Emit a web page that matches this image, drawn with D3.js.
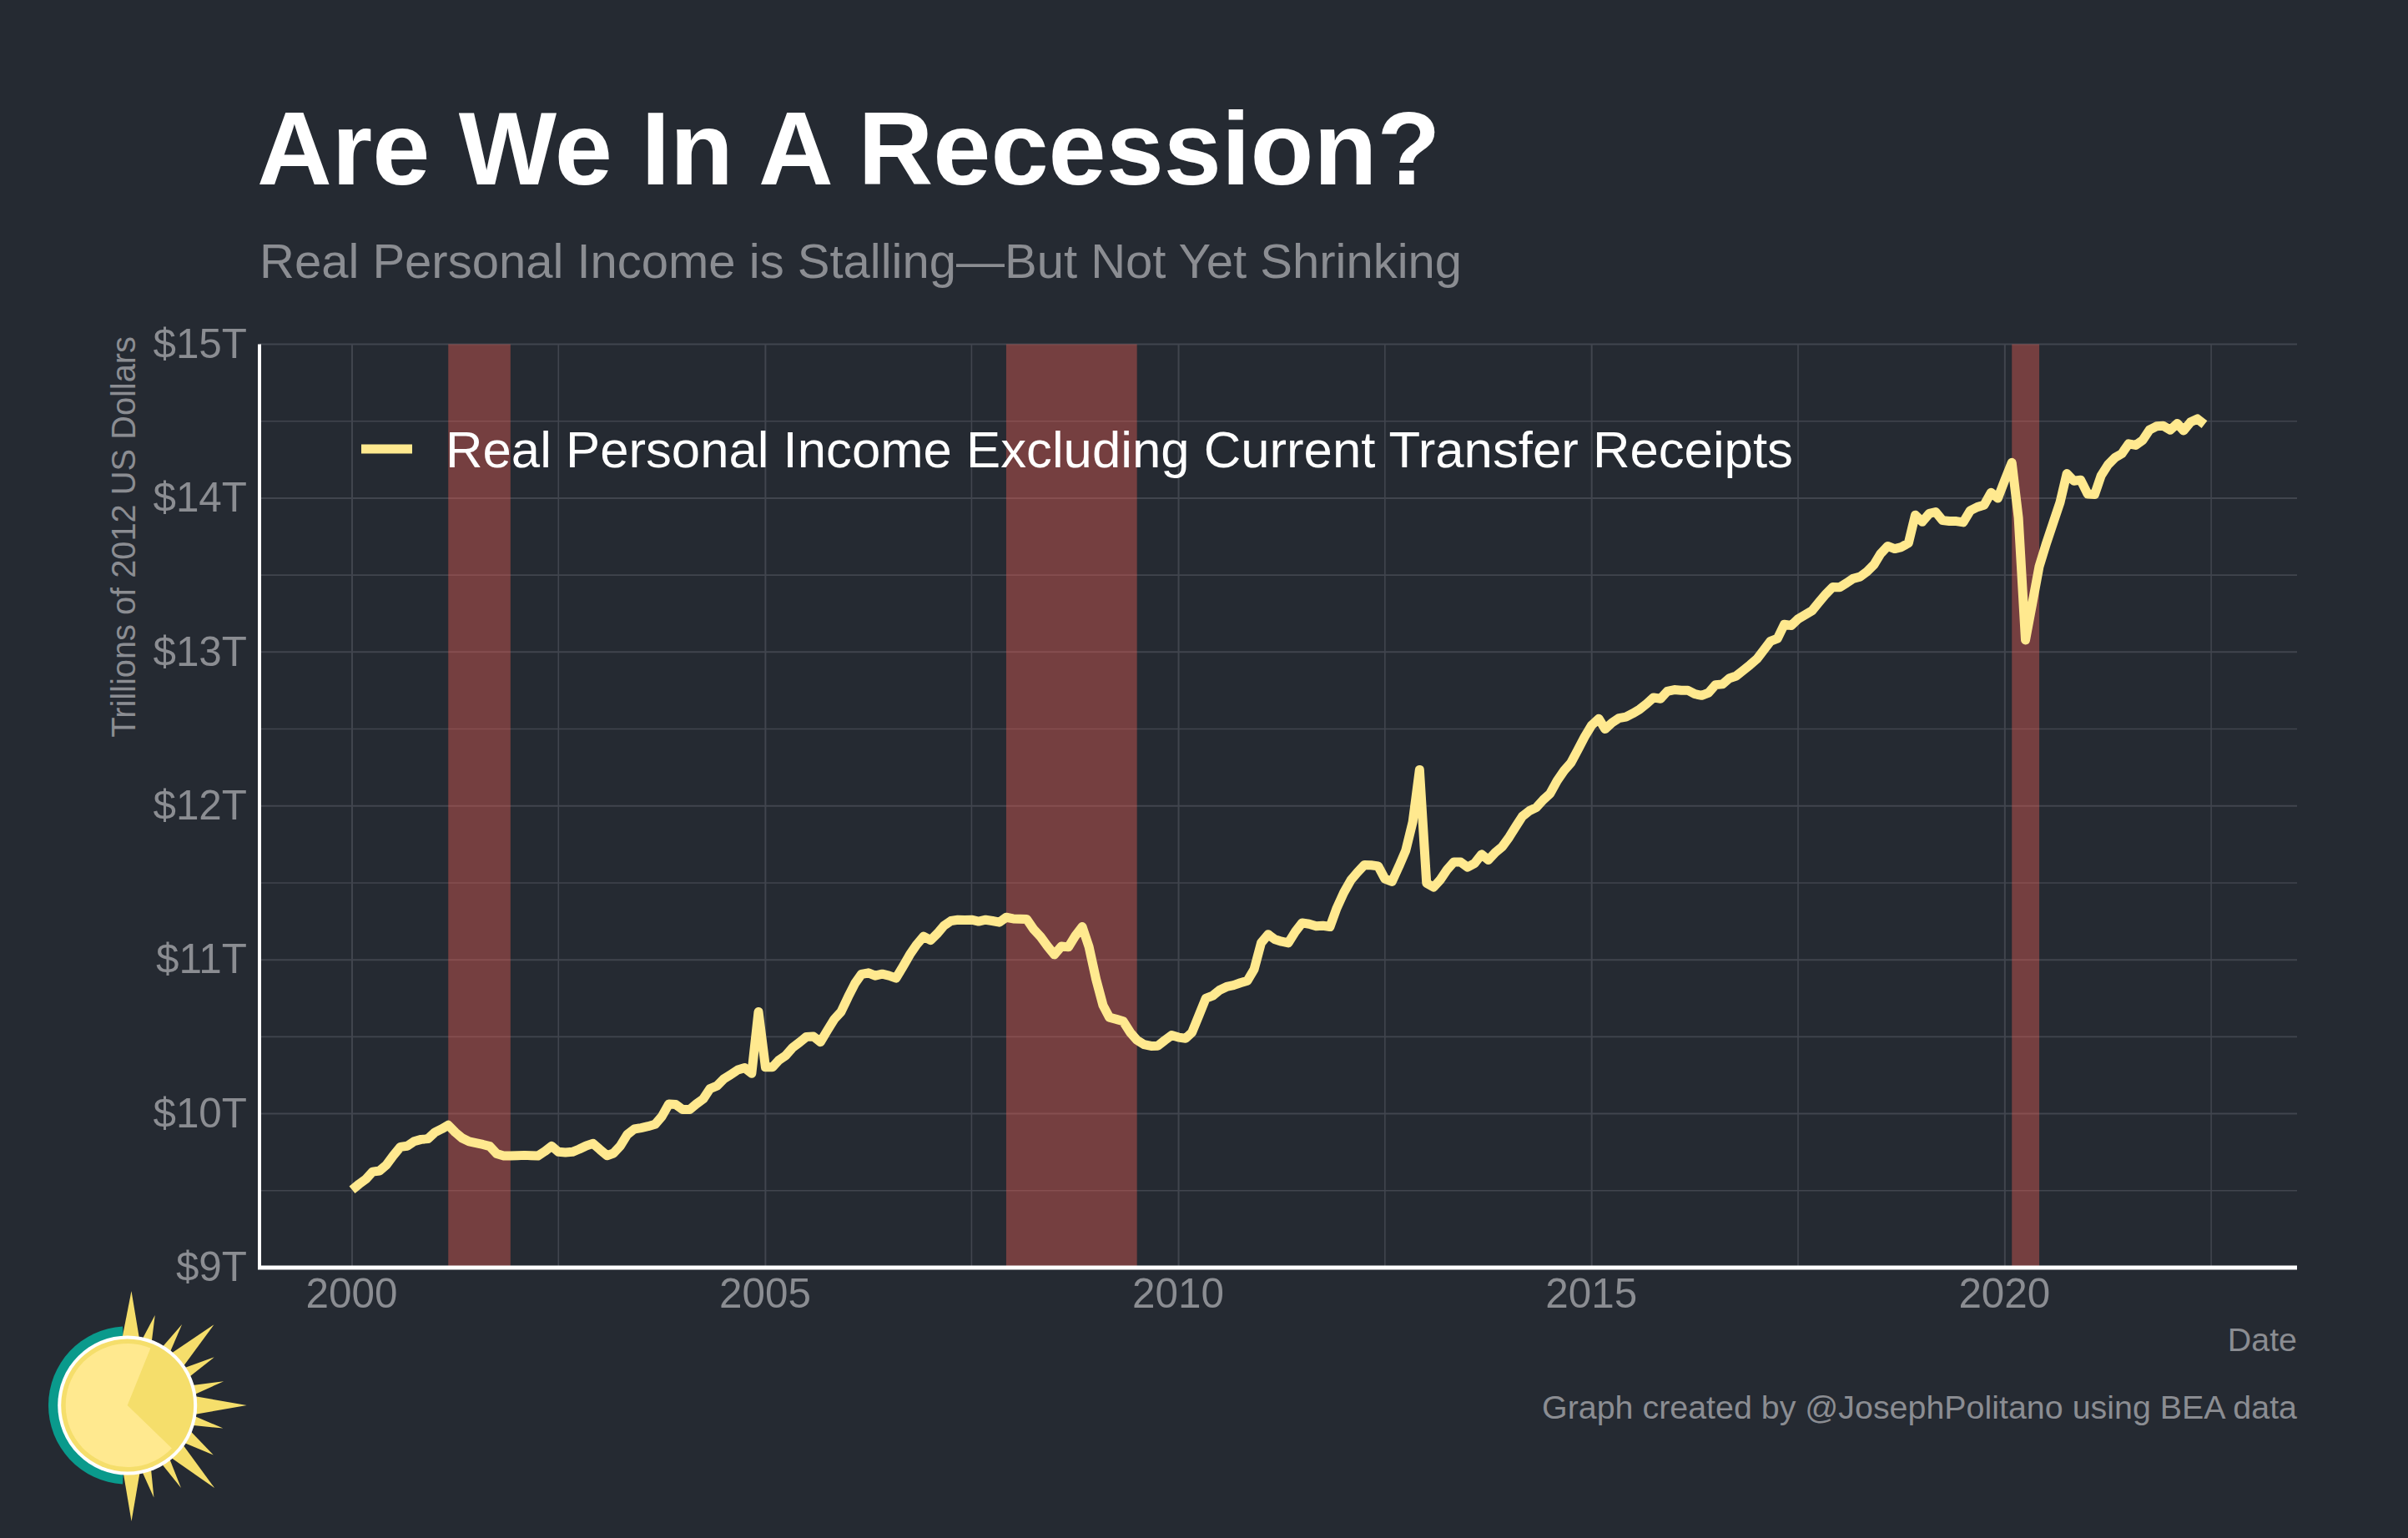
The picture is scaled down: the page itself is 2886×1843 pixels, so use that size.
<!DOCTYPE html>
<html>

<head>
  <title>Are We In A Recession?</title>
  <script src="https://d3js.org/d3.v7.min.js"></script>
  <style>
    body {
      margin: 0;
      background: #252A32;
    }

    svg {
      display: block;
    }

    text {
      font-family: "Liberation Sans", Arial, sans-serif;
    }

    .axis .domain {
      stroke: none;
    }

    .axis text {
      fill: #8B8D92;
      font-family: "Liberation Sans", Arial, sans-serif;
      font-size: 49.4px;
    }
  </style>
</head>

<body>
  <svg id="chart" width="2886" height="1843"></svg>

  <script>
    // monthly, trillions of 2012 dollars. starts Jan 2000
    const firstMonth = new Date(2000, 0, 1);
    const income = [
      9.506, 9.543, 9.574, 9.623, 9.629, 9.668, 9.728, 9.784, 9.79, 9.82, 9.833, 9.837,
      9.879, 9.902, 9.926, 9.879, 9.842, 9.819, 9.81, 9.8, 9.788, 9.74, 9.726, 9.726,
      9.728, 9.73, 9.728, 9.726, 9.755, 9.79, 9.752, 9.748, 9.752, 9.77, 9.792, 9.806,
      9.766, 9.728, 9.743, 9.792, 9.864, 9.9, 9.908, 9.918, 9.931, 9.982, 10.063, 10.06,
      10.027, 10.027, 10.063, 10.096, 10.163, 10.181, 10.226, 10.255, 10.285, 10.298, 10.262, 10.662,
      10.303, 10.303, 10.347, 10.379, 10.43, 10.464, 10.5, 10.502, 10.466, 10.54, 10.614, 10.662,
      10.758, 10.848, 10.906, 10.915, 10.897, 10.908, 10.897, 10.881, 10.957, 11.034, 11.1, 11.152,
      11.128, 11.173, 11.222, 11.253, 11.26, 11.258, 11.26, 11.25, 11.26, 11.253, 11.244, 11.276,
      11.267, 11.265, 11.264, 11.197, 11.15, 11.088, 11.034, 11.088, 11.083, 11.155, 11.215, 11.083,
      10.875, 10.704, 10.626, 10.614, 10.601, 10.529, 10.478, 10.45, 10.44, 10.441, 10.477, 10.51,
      10.496, 10.49, 10.528, 10.64, 10.749, 10.767, 10.803, 10.825, 10.835, 10.85, 10.864, 10.939,
      11.11, 11.165, 11.134, 11.119, 11.11, 11.183, 11.24, 11.233, 11.219, 11.222, 11.215, 11.336,
      11.436, 11.517, 11.568, 11.617, 11.615, 11.609, 11.526, 11.508, 11.608, 11.711, 11.897, 12.235,
      11.499, 11.472, 11.517, 11.584, 11.635, 11.635, 11.602, 11.626, 11.685, 11.649, 11.698, 11.734,
      11.797, 11.87, 11.933, 11.969, 11.99, 12.04, 12.08, 12.164, 12.23, 12.28, 12.365, 12.45,
      12.525, 12.567, 12.5, 12.541, 12.57, 12.578, 12.601, 12.628, 12.664, 12.704, 12.697, 12.745,
      12.755, 12.751, 12.751, 12.727, 12.718, 12.736, 12.787, 12.791, 12.83, 12.845, 12.881, 12.917,
      12.957, 13.016, 13.07, 13.088, 13.179, 13.173, 13.215, 13.242, 13.269, 13.323, 13.377, 13.422,
      13.421, 13.449, 13.477, 13.489, 13.522, 13.567, 13.639, 13.688, 13.671, 13.682, 13.708, 13.89,
      13.846, 13.9, 13.91, 13.855, 13.85, 13.85, 13.843, 13.919, 13.942, 13.955, 14.036, 14,
      14.118, 14.231, 13.873, 13.078, 13.313, 13.557, 13.7, 13.837, 13.973, 14.159, 14.112, 14.118,
      14.027, 14.024, 14.145, 14.217, 14.262, 14.289, 14.353, 14.344, 14.376, 14.443, 14.467, 14.47,
      14.443, 14.485, 14.439, 14.494, 14.515, 14.479
    ];

    const recessionStarts = [new Date(2001, 2, 1), new Date(2007, 11, 1), new Date(2020, 1, 1)];
    const recessionEnds = [new Date(2001, 11, 1), new Date(2009, 6, 1), new Date(2020, 5, 1)];

    const yearTicks = [2000, 2005, 2010, 2015, 2020];
    const minorYearTicks = [2002.5, 2007.5, 2012.5, 2017.5, 2022.5];
    const dollarTicks = [9, 10, 11, 12, 13, 14, 15];
    const minorDollarTicks = [9.5, 10.5, 11.5, 12.5, 13.5, 14.5];

    const chart = d3.select("svg#chart");
    const margin = { top: 412.5, right: 133, bottom: 324, left: 311 };
    const width = +chart.attr("width");
    const height = +chart.attr("height");
    const plotRight = width - margin.right;
    const plotBottom = height - margin.bottom;

    const dates = income.map((d, i) => d3.timeMonth.offset(firstMonth, i));
    const dataset = income.map((d, i) => ({ date: dates[i], value: d }));

    // ggplot style 5% padding on both sides of the dates
    const pad = (plotRight - margin.left) * 0.05 / 1.1;
    const xScale = d3.scaleTime()
      .domain(d3.extent(dates))
      .range([margin.left + pad, plotRight - pad]);
    const yScale = d3.scaleLinear().domain([9, 15]).range([plotBottom, margin.top]);

    // turns 2002.5 into a date
    const yearToDate = y => new Date(Math.floor(y), (y % 1) * 12, 1);

    chart.append("rect")
      .attr("width", width).attr("height", height).attr("fill", "#252A32");

    // gridlines
    const grid = chart.append("g").attr("class", "gridlines").attr("stroke", "#41454E");
    grid.selectAll("line.v").data(yearTicks.concat(minorYearTicks)).join("line")
      .attr("x1", d => xScale(yearToDate(d)))
      .attr("x2", d => xScale(yearToDate(d)))
      .attr("y1", margin.top)
      .attr("y2", plotBottom)
      .attr("stroke-width", d => d % 1 ? 1.6 : 2);
    grid.selectAll("line.h").data(dollarTicks.concat(minorDollarTicks)).join("line")
      .attr("x1", margin.left)
      .attr("x2", plotRight)
      .attr("y1", d => yScale(d))
      .attr("y2", d => yScale(d))
      .attr("stroke-width", d => d % 1 ? 1.6 : 2);

    // recession bands
    chart.append("g").selectAll("rect").data(recessionStarts).join("rect")
      .attr("x", d => xScale(d))
      .attr("width", (d, i) => xScale(recessionEnds[i]) - xScale(d))
      .attr("y", margin.top)
      .attr("height", plotBottom - margin.top)
      .attr("fill", "#EE6055")
      .attr("fill-opacity", 0.4);

    // axes, labels only. the lines are drawn after
    chart.append("g").attr("class", "y axis")
      .attr("transform", `translate(${margin.left},0)`)
      .call(d3.axisLeft(yScale).tickValues(dollarTicks).tickSize(0).tickPadding(15).tickFormat(d => `$${d}T`));
    chart.append("g").attr("class", "x axis")
      .attr("transform", `translate(-1,${plotBottom})`)
      .call(d3.axisBottom(xScale).tickValues(yearTicks.map(yearToDate)).tickSize(0).tickPadding(13).tickFormat(d3.timeFormat("%Y")));

    const line = d3.line().x(d => xScale(d.date)).y(d => yScale(d.value));
    chart.append("path")
      .datum(dataset)
      .attr("d", line)
      .attr("fill", "none")
      .attr("stroke", "#FFE98F")
      .attr("stroke-width", 11)
      .attr("stroke-linejoin", "round");

    // axis lines
    chart.append("line")
      .attr("x1", margin.left).attr("x2", margin.left)
      .attr("y1", margin.top).attr("y2", plotBottom)
      .attr("stroke", "white").attr("stroke-width", 4);
    chart.append("line")
      .attr("x1", margin.left - 2).attr("x2", plotRight)
      .attr("y1", plotBottom).attr("y2", plotBottom)
      .attr("stroke", "white").attr("stroke-width", 5);

    // legend
    chart.append("line")
      .attr("x1", 433).attr("x2", 494).attr("y1", 538).attr("y2", 538)
      .attr("stroke", "#FFE98F").attr("stroke-width", 11);
    chart.append("text")
      .attr("x", 534).attr("y", 560)
      .attr("font-size", 61.7).attr("fill", "white")
      .text("Real Personal Income Excluding Current Transfer Receipts");

    // titles
    chart.append("text")
      .attr("x", 308).attr("y", 221)
      .attr("font-size", 124.3).attr("font-weight", "bold").attr("fill", "white")
      .text("Are We In A Recession?");
    chart.append("text")
      .attr("x", 311).attr("y", 333)
      .attr("font-size", 58).attr("fill", "#8B8D92")
      .text("Real Personal Income is Stalling\u2014But Not Yet Shrinking");

    chart.append("text")
      .attr("transform", "translate(162,403) rotate(-90)")
      .attr("text-anchor", "end")
      .attr("font-size", 39.8).attr("fill", "#8B8D92")
      .text("Trillions of 2012 US Dollars");

    chart.append("text")
      .attr("x", plotRight).attr("y", 1619)
      .attr("text-anchor", "end")
      .attr("font-size", 39.4).attr("fill", "#8B8D92")
      .text("Date");
    chart.append("text")
      .attr("x", plotRight).attr("y", 1700)
      .attr("text-anchor", "end")
      .attr("font-size", 39.4).attr("fill", "#8B8D92")
      .text("Graph created by @JosephPolitano using BEA data");

    // sun logo, bottom left. rays are [base start, tip, base end] in degrees clockwise from up
    const sunRays = [
      [-5, 2, 11, 137], [12, 17, 21.5, 113], [30.5, 34, 39.5, 117], [39.5, 47, 56, 142],
      [56, 61, 66, 119], [72.5, 76, 81.5, 119], [81.5, 90, 98.5, 143], [98.5, 103.5, 107.5, 118],
      [111, 120, 124, 119], [124.5, 133.5, 141, 144], [141, 147, 150, 118], [159, 164, 168, 115],
      [168.5, 178, 184, 139]
    ];
    const rad = d => d * Math.PI / 180;
    const sun = chart.append("g").attr("transform", "translate(152.7,1684)");

    sun.append("path")
      .attr("d", d3.arc()({ innerRadius: 0, outerRadius: 94.7, startAngle: Math.PI + 0.06, endAngle: 2 * Math.PI - 0.06 }))
      .attr("fill", "#0A9A8C");
    sun.selectAll("path.ray").data(sunRays).join("path")
      .attr("class", "ray")
      .attr("d", d => d3.lineRadial().angle(p => rad(p[0])).radius(p => p[1])([[d[0], 78], [d[1], d[3]], [d[2], 78]]) + "Z")
      .attr("fill", "#F5DE6B");
    sun.append("circle").attr("r", 83.5).attr("fill", "white");
    sun.append("circle").attr("r", 79.5).attr("fill", "#F5DE6B");
    sun.append("path")
      .attr("d", d3.arc()({ innerRadius: 0, outerRadius: 74, startAngle: rad(134), endAngle: rad(382) }))
      .attr("fill", "#FFE98F");
  </script>
</body>

</html>
